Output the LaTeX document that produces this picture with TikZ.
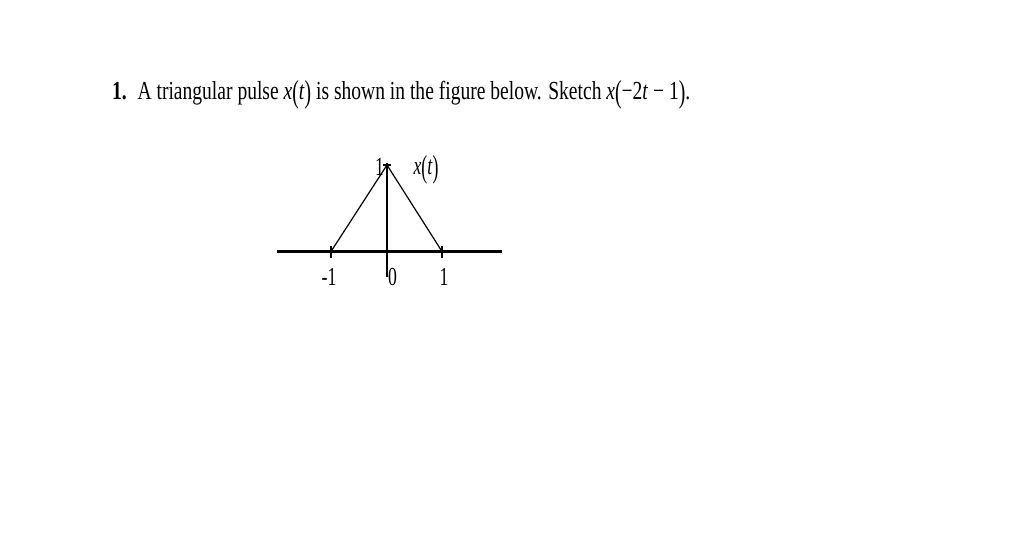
\documentclass[tikz,border=0pt]{standalone}
\usepackage{fontspec}
\setmainfont{Liberation Serif}
\usepackage{graphicx}
\newcommand{\bigpl}{\raisebox{-0.12em}{\scalebox{1}[1.22]{(}}}
\newcommand{\bigpr}{\raisebox{-0.12em}{\scalebox{1}[1.22]{)}}}
\begin{document}
\begin{tikzpicture}[x=1pt,y=-1pt,
  lbl/.style={inner sep=0pt, anchor=base, font=\fontsize{26}{30}\selectfont},
  axisline/.style={line width=2.2pt, black},
  tri/.style={line width=1.2pt, black},
  tick/.style={line width=1.2pt, black}]
\useasboundingbox[fill=white] (0,0) rectangle (1024,539);
\node[inner sep=0pt, anchor=base west, font=\fontsize{26}{30}\selectfont] (title) at (112,99)
  {\resizebox{578pt}{\height}{\textbf{1.}\hspace{0.55em}A triangular pulse \textit{x}\bigpl\textit{t}\bigpr{} is shown in the figure below. Sketch \textit{x}\bigpl−2\textit{t} − 1\bigpr.}};
% axes
\coordinate (hl) at (277,251.5);
\coordinate (hr) at (502,251.5);
\coordinate (vt) at (387,163);
\coordinate (vb) at (387,277);
\coordinate (m1) at (331,251.5);
\coordinate (p1) at (442,251.5);
\coordinate (pk) at (387,165);
\draw[axisline] (hl) -- (hr);
\draw[line width=1.5pt] (vt) -- (vb);
\draw[tri] (m1) -- (pk) -- (p1);
\draw[tick] (331,246) -- (331,258);
\draw[tick] (442,246) -- (442,258);
\draw[tick] (383,165) -- (391,165);
% labels
\node[lbl] (one) at (379.5,175) {\scalebox{0.68}[1]{1}};
\node[lbl] (xt) at (426,174) {\scalebox{0.68}[1]{\textit{x}\bigpl\textit{t}\bigpr}};
\node[lbl] (lm1) at (329,285) {\scalebox{0.68}[1]{-1}};
\node[lbl] (l0) at (392.5,285) {\scalebox{0.68}[1]{0}};
\node[lbl] (l1) at (444,285) {\scalebox{0.68}[1]{1}};
\end{tikzpicture}
\end{document}
